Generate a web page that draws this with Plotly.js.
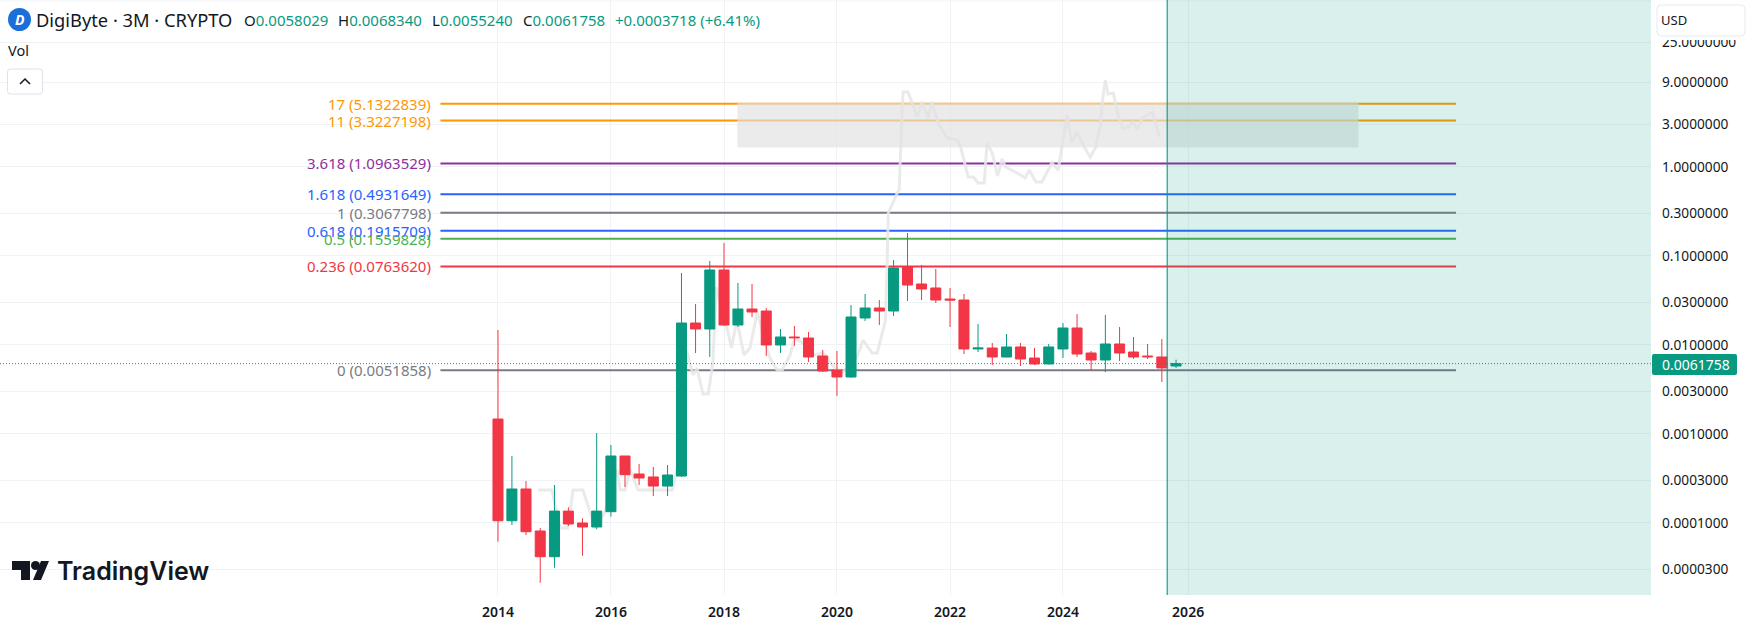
<!DOCTYPE html>
<html>
<head>
<meta charset="utf-8">
<script src="https://cdn.plot.ly/plotly-3.0.1.min.js"></script>
<style>html,body{margin:0;padding:0;background:#fff}#chart{width:1750px;height:626px}</style>
</head>
<body>
<div id="chart"></div>
<script>
const quarters = ['2014-01-01','2014-04-01','2014-07-01','2014-10-01','2015-01-01','2015-04-01','2015-07-01','2015-10-01','2016-01-01','2016-04-01','2016-07-01','2016-10-01','2017-01-01','2017-04-01','2017-07-01','2017-10-01','2018-01-01','2018-04-01','2018-07-01','2018-10-01','2019-01-01','2019-04-01','2019-07-01','2019-10-01','2020-01-01','2020-04-01','2020-07-01','2020-10-01','2021-01-01','2021-04-01','2021-07-01','2021-10-01','2022-01-01','2022-04-01','2022-07-01','2022-10-01','2023-01-01','2023-04-01','2023-07-01','2023-10-01','2024-01-01','2024-04-01','2024-07-01','2024-10-01','2025-01-01','2025-04-01','2025-07-01','2025-10-01','2026-01-01'];
const opens = [.001473,.000106,.000241,.0000813,.0000418,.000136,.0001,.0000902,.000134,.000566,.000355,.000329,.00026,.000337,.01766,.01512,.0696,.01677,.02537,.02409,.01,.01229,.01198,.00752,.00524,.00437,.0201,.02604,.02409,.0752,.04845,.04369,.03286,.03202,.00902,.00925,.00733,.0095,.00714,.00612,.00902,.01552,.00813,.00678,.01026,.00834,.00752,.00733,.0058029];
const highs = [.01473,.000566,.000296,.0000879,.000267,.00015,.000113,.001026,.000752,.000566,.00046,.000426,.000448,.0644,.02888,.0879,.1399,.0497,.04845,.02604,.01512,.01634,.01399,.00879,.00856,.02814,.03741,.03202,.0902,.1812,.0792,.0714,.04369,.03741,.01721,.01053,.01329,.01053,.00925,.01026,.01766,.02229,.00856,.02172,.01592,.01229,.01026,.01167,.006834];
const lows = [.0000616,.000095,.0000733,.0000213,.0000314,.0000925,.0000429,.000085,.000118,.000254,.000267,.000201,.000201,.000329,.00813,.00733,.01634,.01592,.02063,.00752,.00813,.00975,.00644,.00497,.00267,.00426,.0186,.01677,.02117,.0312,.03202,.02963,.01592,.00792,.00834,.00596,.00725,.00581,.00596,.00604,.00714,.00733,.0051,.00497,.00661,.00696,.00696,.00384,.005524];
const closes = [.000106,.000241,.0000798,.0000418,.000136,.0000975,.0000902,.000136,.000566,.000349,.00032,.00026,.000346,.01766,.01512,.0696,.01677,.02537,.02348,.01,.01229,.01207,.00733,.0051,.00437,.02063,.02604,.02409,.0733,.0472,.04257,.03202,.03202,.00902,.00925,.00733,.0095,.00696,.00612,.0095,.01552,.00792,.00678,.01026,.00813,.00733,.00737,.00552,.0061758];

const compareDates = ['2014-09-18','2014-12-15','2015-02-07','2015-03-28','2015-05-01','2015-07-04','2015-09-21','2015-11-24','2016-02-10','2016-03-01','2016-04-01','2016-05-04','2016-06-25','2017-02-01','2017-03-04','2017-05-07','2017-06-15','2017-07-10','2017-08-18','2017-09-21','2017-10-21','2017-11-12','2018-01-28','2018-02-18','2018-03-25','2018-05-10','2018-06-18','2018-08-04','2018-09-25','2018-10-25','2018-12-10','2019-01-13','2019-03-04','2019-04-04','2019-05-25','2019-08-01','2019-10-04','2019-12-18','2020-02-10','2020-05-10','2020-06-18','2020-08-15','2020-09-18','2020-11-10','2020-11-21','2020-11-28','2021-01-25','2021-02-06','2021-02-27','2021-03-04','2021-04-04','2021-06-04','2021-07-04','2021-08-13','2021-09-07','2021-10-16','2021-12-13','2022-02-18','2022-03-07','2022-04-28','2022-06-01','2022-07-01','2022-08-10','2022-08-28','2022-10-01','2022-11-04','2022-12-04','2022-12-25','2023-02-28','2023-05-01','2023-05-28','2023-07-10','2023-08-18','2023-10-21','2023-12-01','2024-01-04','2024-01-28','2024-02-25','2024-04-01','2024-05-10','2024-06-25','2024-07-28','2024-08-28','2024-09-13','2024-10-01','2024-10-18','2024-11-21','2024-12-25','2025-01-25','2025-02-28','2025-03-28','2025-04-25','2025-05-28','2025-08-01','2025-09-15'];
const compareValues = [.000235,.000235,.0000879,.0000879,.000235,.000235,.0000879,.000133,.000394,.000235,.000235,.000394,.000235,.000235,.000415,.00834,.0046,.005515,.002814,.002814,.00628,.0448,.01363,.00925,.01909,.00772,.00925,.02348,.01053,.00714,.00524,.00524,.00772,.01198,.01053,.00772,.00813,.005515,.00497,.00733,.01138,.00813,.00813,.0191,.0902,.3041,.5103,.5515,5.24,6.96,6.96,3.645,5.37,3.55,5.37,3.12,2.117,2.01,1.766,.772,.772,.661,.661,1.86,1.436,.792,1.229,1,.879,.752,.925,.678,.678,1.109,.925,2.01,3.839,1.909,2.472,1.766,1.295,1.634,2.814,5.66,9.5,6.61,6.78,3.645,2.672,2.814,3.2,2.604,3.55,4.148,2.172];

const fibNames = ['17','11','3.618','1.618','1','0.618','0.5','0.236','0'];
const fibValues = [5.1322839,3.3227198,1.0963529,0.4931649,0.3067798,0.1915709,0.1559828,0.0763620,0.0051858];
const fibColors = ['#ff9800','#ff9800','#8e2f9e','#2962ff','#787b86','#2962ff','#4caf50','#f23645','#787b86'];
const fibSpan = ['2012-12-25','2030-12-16'];

const yTicks = [25,9,3,1,0.3,0.1,0.03,0.01,0.003,0.001,0.0003,0.0001,0.00003];
const yTickText = ['25.0000000','9.0000000','3.0000000','1.0000000','0.3000000','0.1000000','0.0300000','0.0100000','0.0030000','0.0010000','0.0003000','0.0001000','0.0000300'];
const xTicks = ['2014-01-01','2016-01-01','2018-01-01','2020-01-01','2022-01-01','2024-01-01','2026-03-20'];
const xTickText = ['2014','2016','2018','2020','2022','2024','2026'];

const lastPrice = 0.0061758;
const xRange = ['2005-03-10','2034-05-29'];
const yRange = [-4.809,1.876];
const UP='#089981', DOWN='#f23645', INK='#131722', FONT='"Noto Sans", sans-serif';

const W=1651, H=595;
const px = x => x/W, py = y => 1-y/H;
const rr = (x0,y0,x1,y1,r) => `M${px(x0+r)} ${py(y0)} L${px(x1-r)} ${py(y0)} Q${px(x1)} ${py(y0)} ${px(x1)} ${py(y0+r)} L${px(x1)} ${py(y1-r)} Q${px(x1)} ${py(y1)} ${px(x1-r)} ${py(y1)} L${px(x0+r)} ${py(y1)} Q${px(x0)} ${py(y1)} ${px(x0)} ${py(y1-r)} L${px(x0)} ${py(y0+r)} Q${px(x0)} ${py(y0)} ${px(x0+r)} ${py(y0)} Z`;
const poly = pts => 'M'+pts.map(p=>`${px(p[0])} ${py(p[1])}`).join(' L')+' Z';
const paperPath = (path,fill,line,lw) => ({type:'path',xref:'paper',yref:'paper',path,fillcolor:fill||'rgba(0,0,0,0)',line:{color:line||'rgba(0,0,0,0)',width:lw||0},layer:'above'});

const traces = [];
fibValues.forEach((v,i)=>traces.push({type:'scatter',mode:'lines',x:fibSpan,y:[v,v],line:{color:fibColors[i],width:2},hoverinfo:'skip',showlegend:false,xaxis:'x',yaxis:'y'}));
traces.push({type:'scatter',mode:'lines',x:compareDates,y:compareValues,line:{color:'rgba(230,230,230,0.86)',width:3},hoverinfo:'skip',showlegend:false,xaxis:'x',yaxis:'y'});
traces.push({type:'candlestick',x:quarters,open:opens,high:highs,low:lows,close:closes,whiskerwidth:0,
  increasing:{line:{color:UP,width:1},fillcolor:UP},decreasing:{line:{color:DOWN,width:1},fillcolor:DOWN},showlegend:false,xaxis:'x2',yaxis:'y2'});
traces.push({type:'scatter',mode:'lines',x:xRange,y:[lastPrice,lastPrice],line:{color:UP,width:1,dash:'1px,2px'},hoverinfo:'skip',showlegend:false,xaxis:'x2',yaxis:'y2'});

const note = (x,y,text,size,color,extra) => Object.assign({xref:'paper',yref:'paper',x:px(x),y:py(y),text,showarrow:false,xanchor:'left',yanchor:'middle',font:{family:FONT,size,color}},extra||{});
const val = (letter,v,x) => note(x,20,`<span style="color:${INK}">${letter}</span><span style="color:${UP}">${v}</span>`,15,UP);

const annotations = [
  note(34,20,'DigiByte · 3M · CRYPTO',18.3,INK),
  note(19.5,20,'<b><i>D</i></b>',14,'#ffffff',{xanchor:'center'}),
  val('O','0.0058029',242), val('H','0.0068340',336), val('L','0.0055240',430), val('C','0.0061758',521),
  note(613,20,'+0.0003718 (+6.41%)',15,UP),
  note(6,50,'Vol',14.5,INK),
  note(55,571,'TradingView',25,'#131722',{font:{family:'Inter, sans-serif',size:25,color:'#131722',weight:600}}),
  note(1659,20,'USD',13,INK),
  note(1660,364.5,'0.0061758',14,'#ffffff'),
];
fibValues.forEach((v,i)=>annotations.push({xref:'x',yref:'y',x:fibSpan[0],y:Math.log10(v),xshift:-7,text:`${fibNames[i]} (${v.toFixed(7)})`,showarrow:false,xanchor:'right',yanchor:'middle',font:{family:FONT,size:15,color:fibColors[i]}}));

const shapes = [
  {type:'rect',xref:'x',yref:'y',x0:'2018-03-28',x1:'2029-03-25',y0:1.65,y1:5.3,fillcolor:'rgba(225,225,225,0.67)',line:{width:0},layer:'above'},
  {type:'rect',xref:'x',yref:'paper',x0:'2025-11-05',x1:xRange[1],y0:0,y1:1,fillcolor:'rgba(8,153,129,0.15)',line:{width:0},layer:'above'},
  {type:'line',xref:'x',yref:'paper',x0:'2025-11-05',x1:'2025-11-05',y0:0,y1:1,line:{color:'rgba(8,153,129,0.75)',width:1.5},layer:'above'},
  paperPath(poly([[1652,0],[1750,0],[1750,40],[1652,40]]),'#ffffff'),
  paperPath(rr(1657,5,1745,36,4),'#ffffff','#e8eaf0',1),
  paperPath(rr(1652,354,1737,375,2),UP),
  paperPath(rr(7.5,69,42.5,94,3),'#ffffff','#dfe2e9',1),
  {type:'path',xref:'paper',yref:'paper',path:`M${px(20)} ${py(84)} L${px(25)} ${py(79)} L${px(30)} ${py(84)}`,line:{color:INK,width:1.5},layer:'above'},
  {type:'circle',xref:'paper',yref:'paper',x0:px(8),x1:px(31),y0:py(31),y1:py(8),fillcolor:'#1b6fdb',line:{width:0},layer:'above'},
  paperPath(poly([[12,561],[30,561],[30,580],[21,580],[21,570],[12,570]]),'#131722'),
  {type:'circle',xref:'paper',yref:'paper',x0:px(31),x1:px(40),y0:py(570),y1:py(561),fillcolor:'#131722',line:{width:0},layer:'above'},
  paperPath(poly([[41,561],[49,561],[41,580],[33,580]]),'#131722'),
  {type:'line',xref:'paper',yref:'paper',x0:0,x1:1,y0:py(1),y1:py(1),line:{color:'#f0f3fa',width:1},layer:'below'},
];

const layout = {
  width:1750,height:626,margin:{l:0,r:99,t:0,b:31},paper_bgcolor:'#fff',plot_bgcolor:'#fff',showlegend:false,boxgap:0.28,boxgroupgap:0,
  xaxis:{type:'date',range:xRange,tickmode:'array',tickvals:xTicks,ticktext:xTickText,showgrid:true,gridcolor:'#f0f3f6',gridwidth:1,zeroline:false,showline:false,ticks:'',ticklabelstandoff:7,tickfont:{family:FONT,size:14,color:INK,weight:600},rangeslider:{visible:false}},
  yaxis:{type:'log',range:yRange,side:'right',tickmode:'array',tickvals:yTicks,ticktext:yTickText,showgrid:true,gridcolor:'#f0f3f6',gridwidth:1,zeroline:false,showline:false,ticks:'',ticklabelstandoff:10,tickfont:{family:FONT,size:13.7,color:INK}},
  xaxis2:{type:'date',range:xRange,overlaying:'x',visible:false,rangeslider:{visible:false}},
  yaxis2:{type:'log',range:yRange,overlaying:'y',side:'right',visible:false},
  shapes,annotations
};
Plotly.newPlot('chart',traces,layout,{staticPlot:true,displayModeBar:false});
</script>
</body>
</html>
